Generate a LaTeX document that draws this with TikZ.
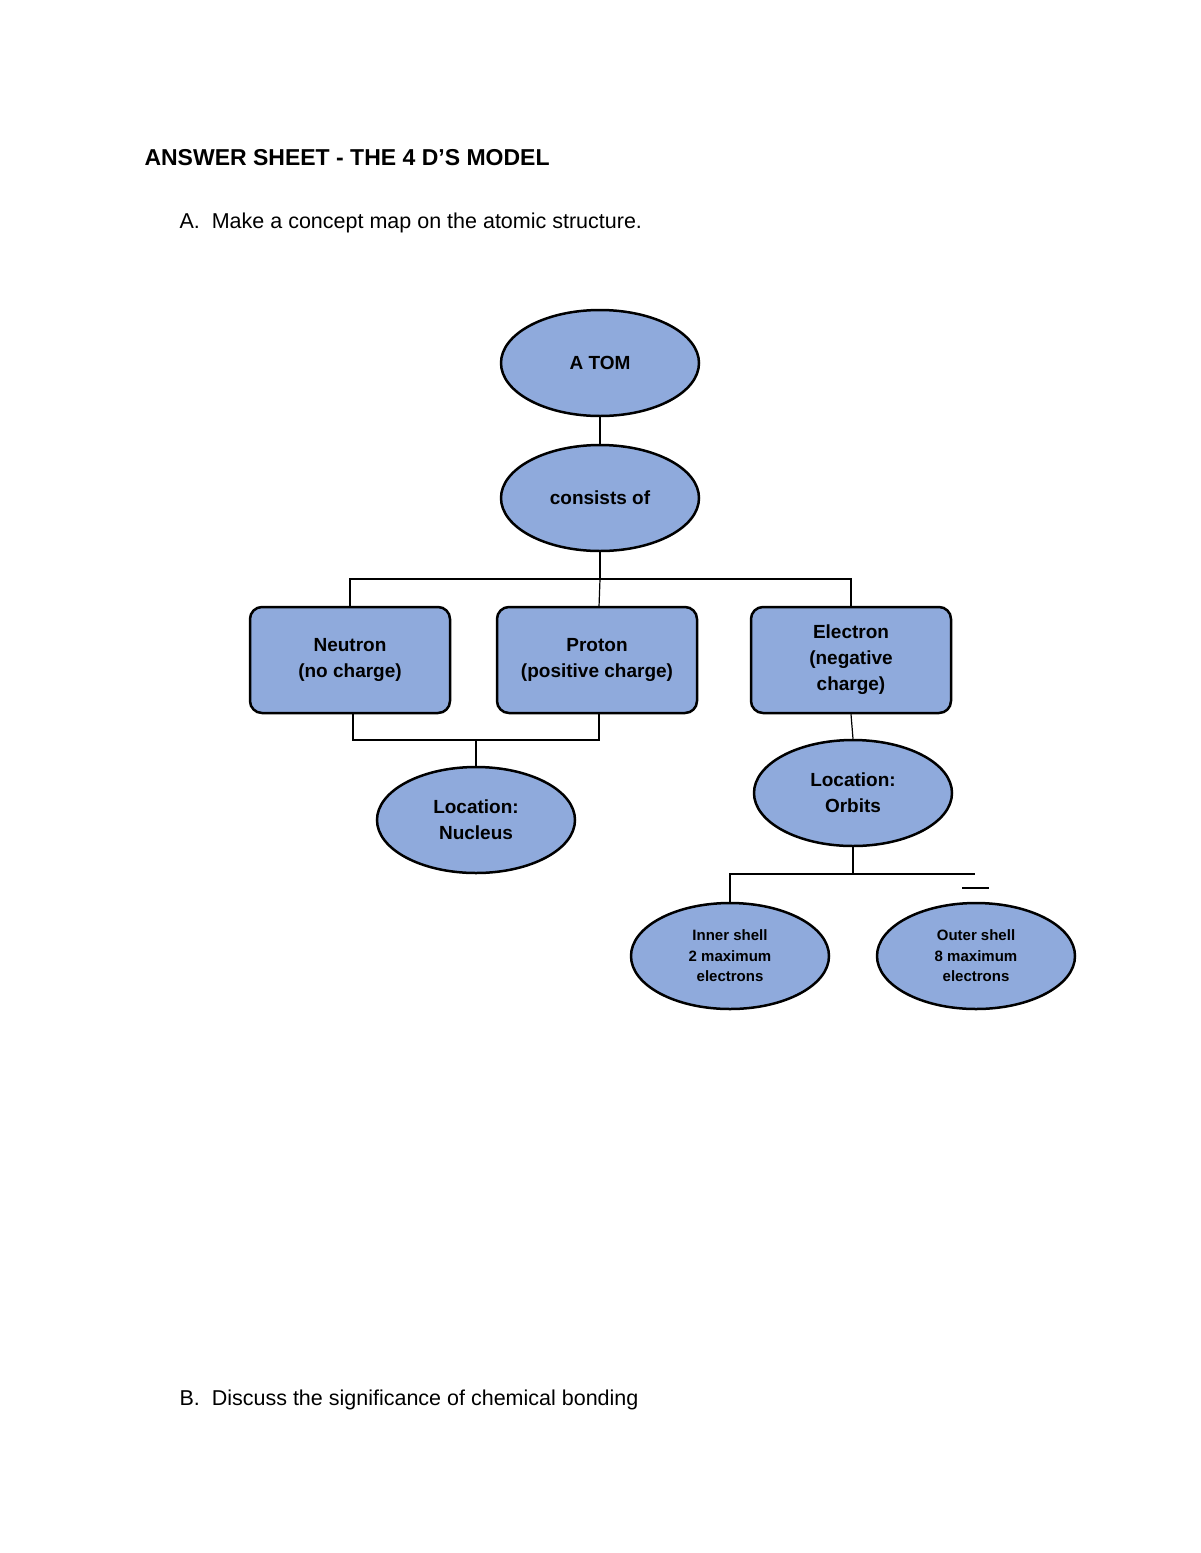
\documentclass[tikz,border=0pt]{standalone}
\usepackage{fontspec}
\setmainfont{Liberation Sans}
\usetikzlibrary{shapes.geometric}
\definecolor{nodefill}{HTML}{8FAADC}
\begin{document}
\begin{tikzpicture}[x=1pt,y=-1pt,
  oval/.style={ellipse,draw=black,line width=2.5pt,fill=nodefill,minimum width=198pt,minimum height=106pt,inner sep=0pt,align=center,font=\fontsize{19}{26}\selectfont\bfseries},
  smalloval/.style={oval,font=\fontsize{15}{20.5}\selectfont\bfseries},
  box/.style={draw=black,line width=2.5pt,fill=nodefill,rounded corners=12pt,minimum width=200pt,minimum height=106pt,inner sep=0pt,align=center,font=\fontsize{19}{26}\selectfont\bfseries},
  conn/.style={line width=1.2pt}]
\useasboundingbox (0,0) rectangle (1200,1553);
\fill[white] (0,0) rectangle (1200,1553);
\node[anchor=base west,font=\fontsize{23}{28}\selectfont\bfseries] (title) at (141,165) {ANSWER SHEET - THE 4 D’S MODEL};
\node[anchor=base west,font=\fontsize{21.5}{26}\selectfont] (qa) at (176,228) {A.\ \ Make a concept map on the atomic structure.};
\node[anchor=base west,font=\fontsize{21.5}{26}\selectfont] (qb) at (176,1405) {B.\ \ Discuss the significance of chemical bonding};

\node[oval] (atom) at (600,363) {A TOM};
\node[oval] (cons) at (600,498) {consists of};
\node[box] (neu) at (350,660) {Neutron\\(no charge)};
\node[box] (pro) at (597,660) {Proton\\(positive charge)};
\node[box] (ele) at (851,660) {Electron\\(negative\\charge)};
\node[oval] (nuc) at (476,820) {Location:\\Nucleus};
\node[oval] (orb) at (853,793) {Location:\\Orbits};
\node[smalloval] (inn) at (730,956) {Inner shell\\2 maximum\\electrons};
\node[smalloval] (out) at (976,956) {Outer shell\\8 maximum\\electrons};

\coordinate (j1) at (600,579);
\coordinate (j2) at (476,740);
\coordinate (j3) at (853,874);
\coordinate (j3r) at (975,874);
\coordinate (s1) at (962,888);
\coordinate (s2) at (989,888);

\draw[conn] (atom.south) -- (cons.north);
\draw[conn] (cons.south) -- (j1);
\draw[conn] (neu.north) |- (j1) -| (ele.north);
\draw[conn] (j1) -- (599,607);
\draw[conn] (neu.south -| 353,0) -- (353,740) -| (pro.south -| 599,0);
\draw[conn] (j2) -- (nuc.north);
\draw[conn] (ele.south) -- (orb.north);
\draw[conn] (orb.south) -- (j3);
\draw[conn] (inn.north) |- (j3) -- (j3r);
\draw[conn] (s1) -- (s2);
\end{tikzpicture}
\end{document}
